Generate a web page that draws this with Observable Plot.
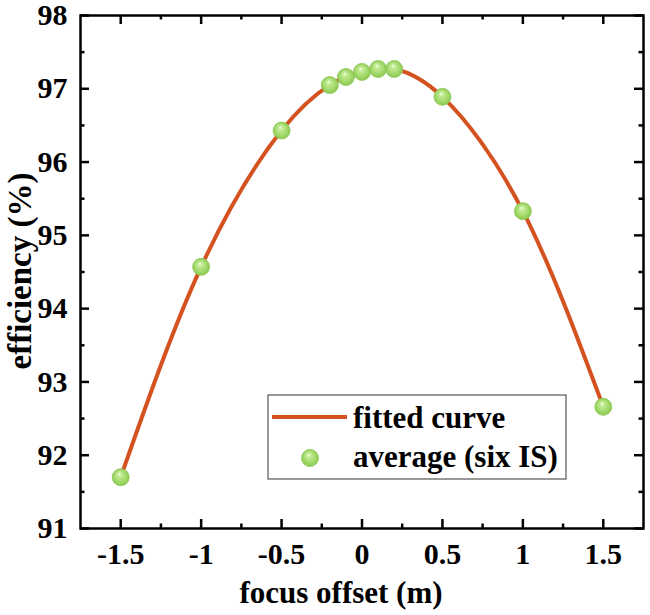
<!DOCTYPE html>
<html><head><meta charset="utf-8">
<script src="https://cdn.jsdelivr.net/npm/d3@7"></script>
<script src="https://cdn.jsdelivr.net/npm/@observablehq/plot@0.6"></script>
<style>body{margin:0;background:#fff} #chart{position:relative;width:650px;height:615px}</style>
</head><body><div id="chart"></div>
<script>
// ---- data ----
const focusOffset = [-1.5, -1, -0.5, -0.2, -0.1, 0, 0.1, 0.2, 0.5, 1, 1.5];
const efficiency  = [91.70, 94.57, 96.43, 97.05, 97.16, 97.23, 97.27, 97.27, 96.89, 95.33, 92.66];
const xMajorTicks = [-1.5, -1, -0.5, 0, 0.5, 1, 1.5];
const xMinorTicks = [-1.25, -0.75, -0.25, 0.25, 0.75, 1.25];
const yMajorTicks = [91, 92, 93, 94, 95, 96, 97, 98];
const yMinorTicks = [91.5, 92.5, 93.5, 94.5, 95.5, 96.5, 97.5];
const xTickLabels = ["-1.5", "-1", "-0.5", "0", "0.5", "1", "1.5"];
const legendLabels = ["fitted curve", "average (six IS)"];
const xTitle = "focus offset (m)";
const yTitle = "efficiency (%)";

const data = focusOffset.map((x, i) => ({x, y: efficiency[i]}));

const W = 650, H = 615, mL = 80, mR = 7, mT = 15, mB = 87;
const pw = W - mL - mR, ph = H - mT - mB;
const font = "'Liberation Serif', 'Times New Roman', serif";
const curveColor = "#d4521f";
const major = 9, minor = 4.5, tw = 2.5;

const plot = Plot.plot({
  width: W, height: H,
  marginLeft: mL, marginRight: mR, marginTop: mT, marginBottom: mB,
  style: {fontFamily: font, fontWeight: "bold", fontSize: "30px", background: "white", color: "black"},
  x: {domain: [-1.75, 1.75], ticks: xMajorTicks, tickFormat: d => xTickLabels[xMajorTicks.indexOf(d)], tickSize: 0, tickPadding: 14, label: null},
  y: {domain: [91, 98], ticks: yMajorTicks, tickFormat: d => String(d), tickSize: 0, tickPadding: 13, label: null},
  marks: [
    Plot.tickX(xMajorTicks, {x: d => d, insetTop: ph - major, stroke: "black", strokeWidth: tw}),
    Plot.tickX(xMinorTicks, {x: d => d, insetTop: ph - minor, stroke: "black", strokeWidth: tw}),
    Plot.tickX(xMajorTicks, {x: d => d, insetBottom: ph - major, stroke: "black", strokeWidth: tw}),
    Plot.tickX(xMinorTicks, {x: d => d, insetBottom: ph - minor, stroke: "black", strokeWidth: tw}),
    Plot.tickY(yMajorTicks, {y: d => d, insetRight: pw - major, stroke: "black", strokeWidth: tw}),
    Plot.tickY(yMinorTicks, {y: d => d, insetRight: pw - minor, stroke: "black", strokeWidth: tw}),
    Plot.tickY(yMajorTicks, {y: d => d, insetLeft: pw - major, stroke: "black", strokeWidth: tw}),
    Plot.tickY(yMinorTicks, {y: d => d, insetLeft: pw - minor, stroke: "black", strokeWidth: tw}),
    Plot.line(data, {x: "x", y: "y", curve: "natural", stroke: curveColor, strokeWidth: 4}),
    Plot.dot(data, {x: "x", y: "y", r: 8.5, fill: "url(#dotGrad)", stroke: "#8cc655", strokeWidth: 0.8}),
    Plot.frame({stroke: "black", strokeWidth: 2.5})
  ]
});

const svg = d3.select(plot);
const defs = svg.insert("defs", ":first-child");
const g = defs.append("radialGradient").attr("id", "dotGrad")
  .attr("cx", "0.5").attr("cy", "0.5").attr("r", "0.55").attr("fx", "0.42").attr("fy", "0.3");
g.append("stop").attr("offset", "0%").attr("stop-color", "#f3ffe6");
g.append("stop").attr("offset", "22%").attr("stop-color", "#c3eb96");
g.append("stop").attr("offset", "65%").attr("stop-color", "#a2d96a");
g.append("stop").attr("offset", "100%").attr("stop-color", "#86c34c");

// axis titles
svg.append("text").attr("x", 341).attr("y", 603).attr("text-anchor", "middle")
  .attr("font-family", font).attr("font-weight", "bold").attr("font-size", 31).text(xTitle);
svg.append("text").attr("transform", "translate(31,271) rotate(-90)").attr("text-anchor", "middle")
  .attr("font-family", font).attr("font-weight", "bold").attr("font-size", 33).text(yTitle);

// legend
const lg = svg.append("g");
lg.append("rect").attr("x", 268).attr("y", 395).attr("width", 298).attr("height", 84)
  .attr("fill", "white").attr("stroke", "#555").attr("stroke-width", 1.2);
lg.append("line").attr("x1", 272).attr("x2", 347).attr("y1", 417).attr("y2", 417)
  .attr("stroke", curveColor).attr("stroke-width", 4);
lg.append("circle").attr("cx", 310).attr("cy", 458).attr("r", 8.5)
  .attr("fill", "url(#dotGrad)").attr("stroke", "#8cc655").attr("stroke-width", 0.8);
lg.selectAll("text.lab").data(legendLabels).join("text").attr("class", "lab")
  .attr("x", 353).attr("y", (d, i) => i === 0 ? 428 : 467).attr("text-anchor", "start")
  .attr("font-family", font).attr("font-weight", "bold").attr("font-size", 31).text(d => d);

document.getElementById("chart").appendChild(plot);
</script>
</body></html>
